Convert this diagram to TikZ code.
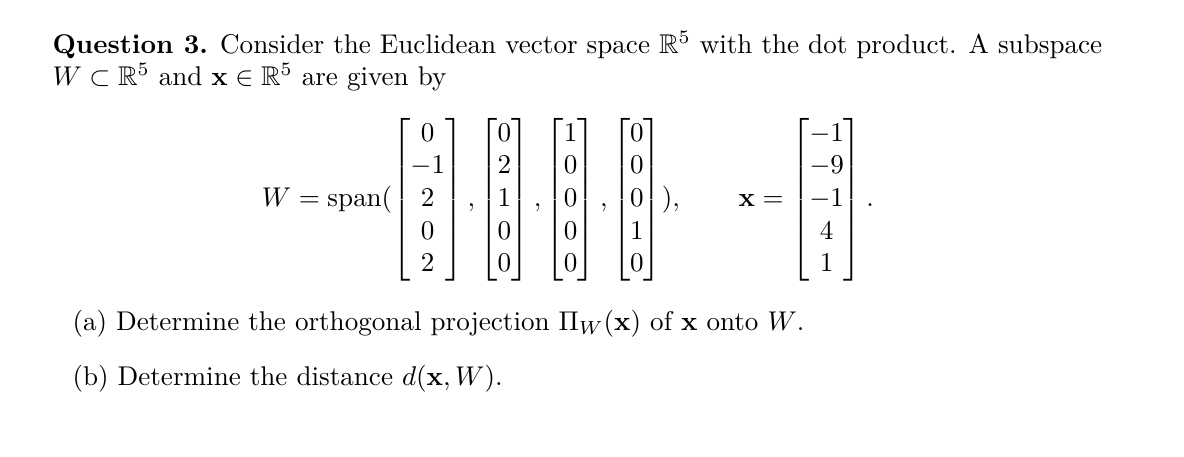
\documentclass[tikz,border=0pt]{standalone}
\usepackage{amsmath,amssymb}
\begin{document}
\begin{tikzpicture}[x=0.369pt,y=-0.369pt,txt/.style={inner sep=0pt,anchor=base west}]
\useasboundingbox (0,0) rectangle (1184,456);
\node[txt] (l1) at (52,53) {\textbf{Question 3.} Consider the Euclidean vector space $\mathbb{R}^5$ with the dot product. A subspace};
\node[txt] (l2) at (52,85) {$W\subset\mathbb{R}^5$ and $\mathbf{x}\in\mathbb{R}^5$ are given by};
\node[inner sep=0pt] (eq) at (568,200) {$\displaystyle W=\operatorname{span}(\begin{bmatrix}0\\-1\\2\\0\\2\end{bmatrix},\begin{bmatrix}0\\2\\1\\0\\0\end{bmatrix},\begin{bmatrix}1\\0\\0\\0\\0\end{bmatrix},\begin{bmatrix}0\\0\\0\\1\\0\end{bmatrix}),\qquad \mathbf{x}=\begin{bmatrix}-1\\-9\\-1\\4\\1\end{bmatrix}.$};
\node[txt] (a) at (72,330) {(a) Determine the orthogonal projection $\Pi_W(\mathbf{x})$ of $\mathbf{x}$ onto $W$.};
\node[txt] (b) at (72,385) {(b) Determine the distance $d(\mathbf{x},W)$.};
\end{tikzpicture}
\end{document}
